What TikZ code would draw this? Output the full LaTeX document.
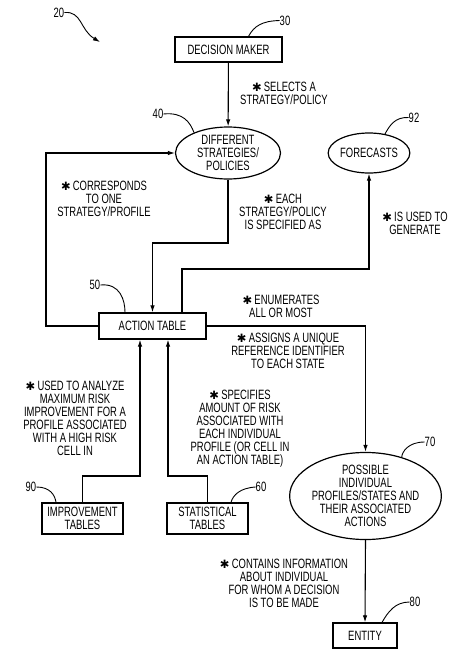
\documentclass[tikz,border=0pt]{standalone}
\usepackage{fontspec}
\setmainfont{Liberation Sans}[FakeStretch=0.7]
\newfontfamily\symf{DejaVu Sans}
\usetikzlibrary{arrows.meta,shapes.geometric}
\newcommand{\stR}{{\symf\scalebox{0.85}{\char"2731}}\,}
\begin{document}
\begin{tikzpicture}[x=1pt,y=-1pt,
  every node/.style={font=\fontsize{13.5pt}{13pt}\selectfont, inner sep=0pt, align=center},
  box/.style={draw, line width=1.2pt, rectangle},
  oval/.style={draw, line width=1.2pt, ellipse},
  arr/.style={line width=1.1pt, -{Latex[length=7pt,width=4.5pt]}},
  lead/.style={line width=0.9pt},
  lbl/.style={}]
\useasboundingbox (0,0) rectangle (474,667);
% main nodes
\node[box, minimum width=107pt, minimum height=25pt] (dm) at (228.5,49.5) {DECISION MAKER};
\node[oval, minimum width=105pt, minimum height=52pt] (s40) at (228,153) {DIFFERENT\\STRATEGIES/\\POLICIES};
\node[oval, minimum width=80pt, minimum height=40pt] (fc) at (369,153) {FORECASTS};
\node[box, minimum width=107pt, minimum height=26pt] (at) at (152.5,326) {ACTION TABLE};
\node[oval, minimum width=149pt, minimum height=75pt] (e70) at (365.5,496) {POSSIBLE\\INDIVIDUAL\\PROFILES/STATES AND\\THEIR ASSOCIATED\\ACTIONS};
\node[box, minimum width=64pt, minimum height=25pt] (ent) at (365,635.5) {ENTITY};
\node[box, minimum width=81pt, minimum height=31pt] (imp) at (82.5,518.5) {IMPROVEMENT\\TABLES};
\node[box, minimum width=81pt, minimum height=31pt] (st) at (207.5,518.5) {STATISTICAL\\TABLES};
% reference numbers
\node (n20) at (59,12.5) {20};
\node (n30) at (285,20.5) {30};
\node (n40) at (158,114) {40};
\node (n92) at (414,117.5) {92};
\node (n50) at (95,285) {50};
\node (n70) at (430,442) {70};
\node (n90) at (31,487) {90};
\node (n60) at (261,487) {60};
\node (n80) at (415,602) {80};
\coordinate (p20) at (100,42);
% leaders
\draw[lead, -{Latex[length=7pt,width=4.5pt]}] (n20.east) .. controls (82,11) and (80,30) .. (p20);
\draw[lead] (n30.west) .. controls (262,21) and (254,26) .. ([xshift=20pt]dm.north);
\draw[lead] (n40.east) .. controls (183,112) and (190,122) .. (s40.149);
\draw[lead] (n92.west) .. controls (395,117) and (390,125) .. (fc.50);
\draw[lead] (n50.east) .. controls (120,283) and (125,300) .. ([xshift=-27.5pt]at.north);
\draw[lead] (n70.west) .. controls (408,442) and (402,452) .. (e70.47);
\draw[lead] (n90.east) .. controls (50,487) and (55,495) .. ([xshift=-26.5pt]imp.north);
\draw[lead] (n60.west) .. controls (240,488) and (233,495) .. ([xshift=23.5pt]st.north);
\draw[lead] (n80.west) .. controls (395,602) and (388,612) .. ([xshift=17pt]ent.north);
% connectors
\coordinate (k1) at (152.5,243);
\coordinate (k2) at (46,0);
\coordinate (k3) at (182,269);
\coordinate (k4) at (140,476);
\coordinate (k5) at (168,476);
\draw[arr] (dm) -- (s40);
\draw[arr] (s40.south) |- (k1) -- (at.north);
\draw[arr] (at.west) -| (k2 |- s40.west) -- (s40.west);
\draw[arr] (k3 |- at.north) -- (k3) -| (fc.south);
\draw[arr] (at.east) -| (e70.north);
\draw[arr] (imp.north) |- (k4) -- (k4 |- at.south);
\draw[arr] (st.north) |- (k5) -- (k5 |- at.south);
\draw[arr] (e70.south) -- (ent.north);
% connector labels
\node (t1) at (284,93.5) {\stR SELECTS A\\STRATEGY/POLICY};
\node (t2) at (104,199) {\stR CORRESPONDS\\TO ONE\\STRATEGY/PROFILE};
\node (t3) at (283,211.5) {\stR EACH\\STRATEGY/POLICY\\IS SPECIFIED AS};
\node (t4) at (415,223.5) {\stR IS USED TO\\GENERATE};
\node (t5) at (281,306.5) {\stR ENUMERATES\\ALL OR MOST};
\node (t6) at (288,351) {\stR ASSIGNS A UNIQUE\\REFERENCE IDENTIFIER\\TO EACH STATE};
\node (t7) at (75,418.5) {\stR USED TO ANALYZE\\MAXIMUM RISK\\IMPROVEMENT FOR A\\PROFILE ASSOCIATED\\WITH A HIGH RISK\\CELL IN};
\node (t8) at (240,428.5) {\stR SPECIFIES\\AMOUNT OF RISK\\ASSOCIATED WITH\\EACH INDIVIDUAL\\PROFILE (OR CELL IN\\AN ACTION TABLE)};
\node (t9) at (284,583) {\stR CONTAINS INFORMATION\\ABOUT INDIVIDUAL\\FOR WHOM A DECISION\\IS TO BE MADE};
\end{tikzpicture}
\end{document}
